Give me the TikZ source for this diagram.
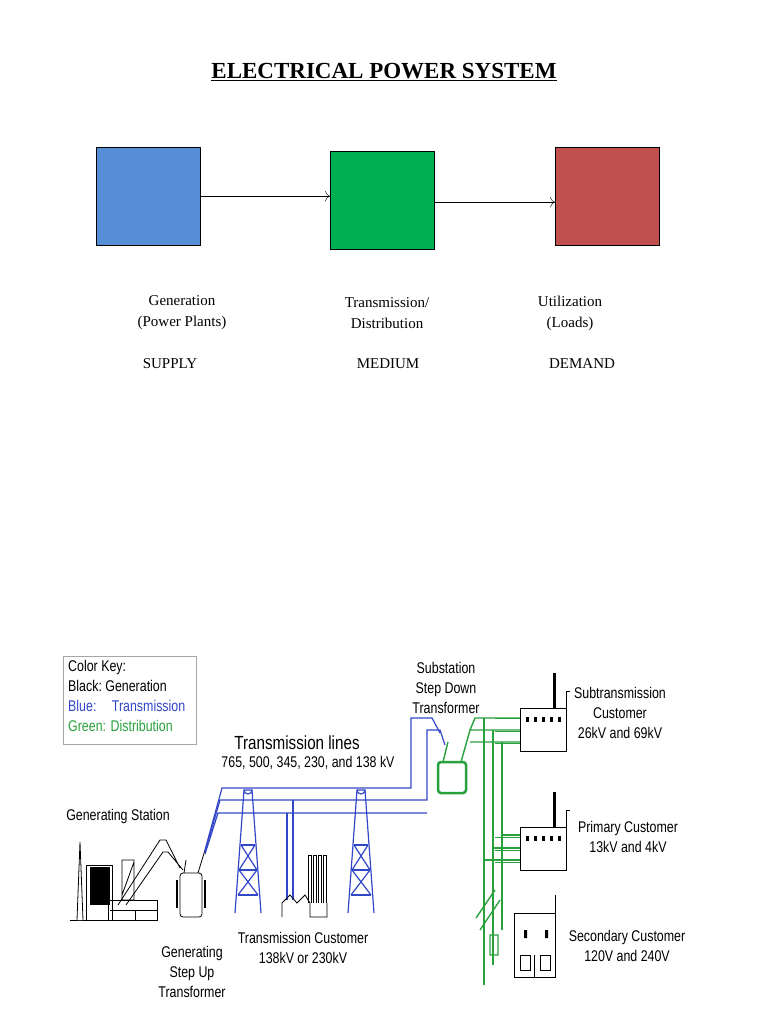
\documentclass[tikz,border=0pt]{standalone}
\usepackage{fontspec}
\setmainfont{Liberation Serif}
\newfontfamily\keyfont{Liberation Sans}[FakeStretch=0.8]
\usetikzlibrary{arrows.meta, positioning}
\definecolor{genblue}{RGB}{85,142,213}
\definecolor{trgreen}{RGB}{0,176,80}
\definecolor{loadred}{RGB}{192,80,77}
\definecolor{lineblue}{RGB}{50,70,200}
\definecolor{linegreen}{RGB}{40,160,60}
\tikzset{
  block/.style={draw=black, minimum width=104pt, minimum height=98pt, inner sep=0pt},
  flow/.style={-{To[length=5pt]}, thin},
  caption/.style={font=\fontsize{15}{21}\selectfont, align=center},
  small/.style={font=\keyfont\fontsize{15.5}{20}\selectfont, align=center, inner sep=0pt},
  bl/.style={lineblue, line width=1.2pt},
  gl/.style={linegreen, line width=1.4pt}
}
\newcommand{\pylon}[1]{%
  \draw[bl] (#1-13,913) -- (#1-4,790) -- (#1+4,790) -- (#1+13,913);
  \draw[bl] (#1-7,845) -- (#1+7,845) (#1-9,870) -- (#1+9,870) (#1-10,895) -- (#1+10,895);
  \draw[bl] (#1-7,845) -- (#1+9,870) -- (#1-10,895) (#1+7,845) -- (#1-9,870) -- (#1+10,895);
  \draw[bl] (#1-4,790) arc (180:0:4);}
\newcommand{\works}[2]{%
  \draw[thick] (#1,#2+78) -- (#1,#2+35) -- (#1+46,#2+35) -- (#1+46,#2+18) -- (#1+50,#2+18);
  \draw[line width=3pt] (#1+34,#2+35) -- (#1+34,#2);
  \draw[thick] (#1,#2+78) -- (#1+46,#2+78) -- (#1+46,#2+35);
  \foreach \k in {0,...,4} \fill (#1+6+\k*8,#2+44) rectangle ++(3,5);
  \draw[linegreen] (#1-25,#2+45) -- (#1,#2+45) (#1-25,#2+58) -- (#1,#2+58) (#1-25,#2+70) -- (#1,#2+70);}
\begin{document}
\begin{tikzpicture}[x=1pt, y=-1pt]
\useasboundingbox (0,0) rectangle (768,1024);
% top block diagram
\node[font=\bfseries\fontsize{23}{25}\selectfont] (title) at (384,72) {\underline{ELECTRICAL POWER SYSTEM}};
\node[block, fill=genblue, anchor=north west] (gen) at (96,147) {};
\node[block, fill=trgreen, anchor=north west] (med) at (330,151) {};
\node[block, fill=loadred, anchor=north west] (load) at (555,147) {};
\draw[flow] (gen.east) -- (gen.east -| med.west);
\draw[flow] ([yshift=-2pt]med.east) -- ([yshift=-2pt]med.east -| load.west);
\node[caption] (genl) at (182,313) {Generation\\(Power Plants)};
\node[caption] (medl) at (387,313) {Transmission/\\Distribution};
\node[caption] (loadl) at (570,313) {Utilization\\(Loads)};
\node[caption] (sup) at (170,364) {SUPPLY};
\node[caption] (mid) at (388,364) {MEDIUM};
\node[caption] (dem) at (582,364) {DEMAND};
% colour key
\draw[gray!70, line width=1pt] (63,656) rectangle (196,744);
\node[small, anchor=north west, align=left] (key) at (68,660)
  {Color Key:\\Black:~Generation\\\textcolor{lineblue}{Blue:\quad Transmission}\\\textcolor{linegreen}{Green: Distribution}};
% labels
\node[small] (tl) at (297,743) {\fontsize{19}{20}\selectfont Transmission lines};
\node[small] (kv) at (308,763) {765, 500, 345, 230, and 138 kV};
\node[small] (sub) at (446,688) {Substation\\Step Down\\Transformer};
\node[small] (stc) at (620,713) {Subtransmission\\Customer\\26kV and 69kV};
\node[small] (pc) at (628,837) {Primary Customer\\13kV and 4kV};
\node[small] (sc) at (627,946) {Secondary Customer\\120V and 240V};
\node[small] (gs) at (118,816) {Generating Station};
\node[small] (gsu) at (192,972) {Generating\\Step Up\\Transformer};
\node[small] (tc) at (303,948) {Transmission Customer\\138kV or 230kV};
% generating station
\draw[thick] (70,920) -- (157,920);
\draw[thick, fill=white] (77,920) -- (80,842) -- (83,920);
\fill (90,867) rectangle (110,905);
\draw[thick] (86,865) rectangle (112,920) (108,900) rectangle (157,920) (110,910) -- (157,910) (135,910) -- (135,920);
\draw[thick] (122,860) rectangle (134,900) (122,895) -- (134,862);
\draw[thick] (118,905) -- (160,840) -- (166,840) -- (180,868) (126,905) -- (163,852) -- (168,852) -- (183,870);
% step-up transformer
\draw[thick, rounded corners=3pt] (180,873) rectangle (202,917);
\draw[line width=2pt] (177,880) -- (177,908) (205,880) -- (205,908);
\draw[thick] (184,873) -- (186,860) (198,873) -- (205,850);
% transmission lines
\draw[bl] (205,850) -- (222,788) -- (411,788) -- (411,718) -- (432,718) -- (440,733);
\draw[bl] (205,852) -- (220,800) -- (427,800) -- (427,730) -- (440,730) -- (445,745);
\draw[bl] (205,854) -- (218,813) -- (427,813);
\pylon{248} \pylon{361}
% transmission customer
\draw[bl] (287,813) -- (287,900) (293,800) -- (293,900);
\draw[thick] (282,917) -- (282,903) -- (290,895) -- (297,903) -- (305,895) -- (310,903) -- (310,917) -- (327,917) -- (327,903);
\foreach \xx in {308,313,318,323} \draw[thick] (\xx,903) -- (\xx,855) -- (\xx+3,855) -- (\xx+3,903);
% substation transformer
\draw[linegreen, line width=2.5pt, rounded corners=3pt] (438,762) rectangle (466,793);
\draw[gl] (443,762) -- (448,742) (461,762) -- (470,730) -- (520,730) (470,730) -- (475,718) -- (520,718) (470,742) -- (520,742);
% distribution feeders
\draw[gl] (484,718) -- (484,985) (493,730) -- (493,965) (502,742) -- (502,930);
\draw[gl] (484,860) -- (520,860) (493,848) -- (520,848) (502,835) -- (520,835);
\draw[gl] (476,918) -- (495,890) (480,930) -- (500,900) (490,935) rectangle (498,955);
% customers
\works{520}{673} \works{520}{792}
\draw[thick] (514,977) -- (514,913) -- (555,913) -- (555,977) -- cycle (520,955) rectangle (530,970) (540,955) rectangle (550,970) (534,955) -- (534,977) (555,913) -- (555,895);
\fill (524,930) rectangle ++(3,8) (545,930) rectangle ++(3,8);
\end{tikzpicture}
\end{document}
